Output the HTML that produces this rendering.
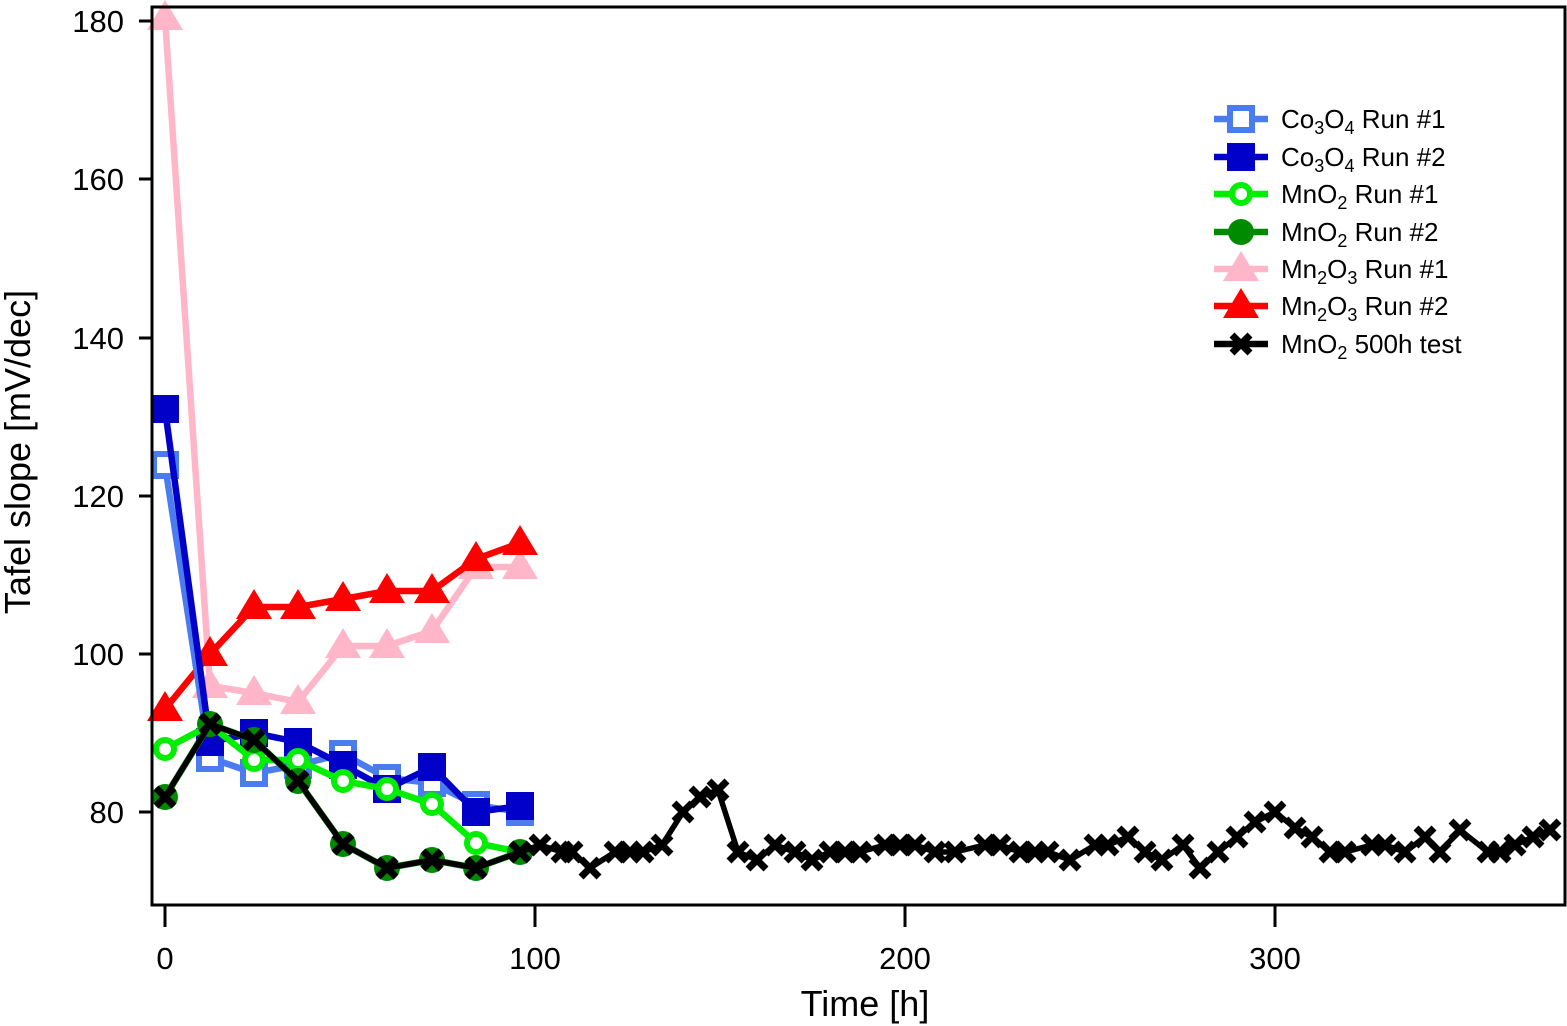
<!DOCTYPE html>
<html><head><meta charset="utf-8"><style>
body{margin:0;background:#fff;}
svg{display:block;font-family:"Liberation Sans",sans-serif;}
</style></head><body>
<svg id="s" width="1567" height="1026" viewBox="0 0 1567 1026" xmlns="http://www.w3.org/2000/svg">
<rect width="1567" height="1026" fill="#fff"/>
<g id="plot"></g>
<rect x="152" y="7" width="1413" height="898" fill="none" stroke="#000" stroke-width="3"/>
<g stroke="#000" stroke-width="3">
<line x1="165" y1="906" x2="165" y2="927"/><line x1="535" y1="906" x2="535" y2="927"/>
<line x1="905" y1="906" x2="905" y2="927"/><line x1="1275" y1="906" x2="1275" y2="927"/>
<line x1="139" y1="21" x2="152" y2="21"/><line x1="139" y1="179" x2="152" y2="179"/>
<line x1="139" y1="338" x2="152" y2="338"/><line x1="139" y1="496" x2="152" y2="496"/>
<line x1="139" y1="654" x2="152" y2="654"/><line x1="139" y1="812" x2="152" y2="812"/>
</g>
<g font-size="31" text-anchor="end" fill="#000">
<text x="124" y="32">180</text><text x="124" y="190">160</text><text x="124" y="349">140</text>
<text x="124" y="507">120</text><text x="124" y="665">100</text><text x="124" y="823">80</text>
</g>
<g font-size="31" text-anchor="middle" fill="#000">
<text x="165" y="969">0</text><text x="535" y="969">100</text><text x="905" y="969">200</text><text x="1275" y="969">300</text>
<text x="865" y="1016" font-size="36">Time [h]</text>
<text transform="translate(30,452) rotate(-90)" font-size="36">Tafel slope [mV/dec]</text>
</g>
<g id="leg" fill="#000"></g>
</svg>
<script>
const NS="http://www.w3.org/2000/svg";
const plot=document.getElementById('plot'),leg=document.getElementById('leg');
function el(p,t,a){const e=document.createElementNS(NS,t);for(const k in a)e.setAttribute(k,a[k]);p.appendChild(e);return e;}
function marker(p,type,x,y,c){
 if(type=='osq'){el(p,'rect',{x:x-11,y:y-11,width:22,height:22,fill:'#fff',stroke:c,'stroke-width':6});}
 else if(type=='sq'){el(p,'rect',{x:x-14,y:y-14,width:28,height:28,fill:c});}
 else if(type=='oc'){el(p,'circle',{cx:x,cy:y,r:9,fill:'#fff',stroke:c,'stroke-width':6});}
 else if(type=='c'){el(p,'circle',{cx:x,cy:y,r:13,fill:c});}
 else if(type=='tri'){el(p,'polygon',{points:`${x},${y-18} ${x-18},${y+12} ${x+18},${y+12}`,fill:c});}
 else if(type=='x'){el(p,'path',{d:`M${x-9},${y-9}L${x+9},${y+9}M${x-9},${y+9}L${x+9},${y-9}`,stroke:c,'stroke-width':7,fill:'none'});}
}
const X=[165,210,254,298,343,387,432,476,520];
const series=[
 {c:'#4a7cf0',m:'osq',y:[465,758,773,765,754,778,783,805,812]},
 {c:'#0000c8',m:'sq',y:[409,742,733,742,765,789,767,812,806]},
 {c:'#00ee00',m:'oc',y:[749,725,760,760,781,789,804,843,852]},
 {c:'#008a00',m:'c',y:[797,724,740,781,844,868,860,868,852]},
 {c:'#ffb6c8',m:'tri',y:[18,686,693,702,646,646,631,567,567]},
 {c:'#ff0000',m:'tri',y:[709,654,607,607,599,591,591,559,543]},
];
const black=[[165,797],[210,724],[254,740],[298,781],[343,844],[387,868],[432,860],[476,868],[520,852],[540,845],[562,852],[572,852],[590,868],[615,852],[630,852],[643,852],[662,845],[683,812],[700,797],[718,790],[738,852],[757,860],[775,845],[795,852],[812,860],[830,852],[845,852],[860,852],[885,845],[900,845],[915,845],[935,852],[955,852],[985,845],[1000,845],[1020,852],[1035,852],[1048,852],[1070,860],[1095,845],[1108,845],[1128,837],[1145,852],[1162,860],[1183,845],[1200,868],[1218,852],[1237,837],[1255,822],[1275,812],[1295,828],[1312,837],[1330,852],[1345,852],[1372,845],[1385,845],[1405,852],[1425,837],[1440,852],[1460,830],[1488,852],[1500,852],[1515,845],[1533,837],[1550,830]];
[4,5,0,1,2,3].forEach(i=>{const s=series[i];
 el(plot,'polyline',{points:X.map((x,j)=>x+','+s.y[j]).join(' '),fill:'none',stroke:s.c,'stroke-width':6.5,'stroke-linejoin':'round'});
 X.forEach((x,j)=>marker(plot,s.m,x,s.y[j],s.c));});
el(plot,'polyline',{points:black.map(p=>p.join(',')).join(' '),fill:'none',stroke:'#000','stroke-width':5.5,'stroke-linejoin':'round'});
black.forEach(p=>marker(plot,'x',p[0],p[1],'#000'));
const labs=[['Co','3','O','4',' Run #1'],['Co','3','O','4',' Run #2'],['MnO','2','','',' Run #1'],['MnO','2','','',' Run #2'],['Mn','2','O','3',' Run #1'],['Mn','2','O','3',' Run #2'],['MnO','2','','',' 500h test']];
const types=[['#4a7cf0','osq'],['#0000c8','sq'],['#00ee00','oc'],['#008a00','c'],['#ffb6c8','tri'],['#ff0000','tri'],['#000','x']];
const ys=[119,157,194,232,269,306,344];
labs.forEach((l,i)=>{const y=ys[i],[c,m]=types[i];
 el(leg,'line',{x1:1214,y1:y,x2:1268,y2:y,stroke:c,'stroke-width':6.5});
 marker(leg,m,1241,y,c);
 const t=el(leg,'text',{x:1281,y:y+9,'font-size':26});
 const add=(s,sub)=>{if(!s)return;const ts=el(t,'tspan',sub?{'font-size':18,dy:6}:{dy:0});ts.textContent=s;return ts;};
 add(l[0]);add(l[1],1);
 if(l[2]){el(t,'tspan',{dy:-6}).textContent=l[2];add(l[3],1);}
 el(t,'tspan',{dy:-6}).textContent=l[4];
});
</script>
</body></html>
